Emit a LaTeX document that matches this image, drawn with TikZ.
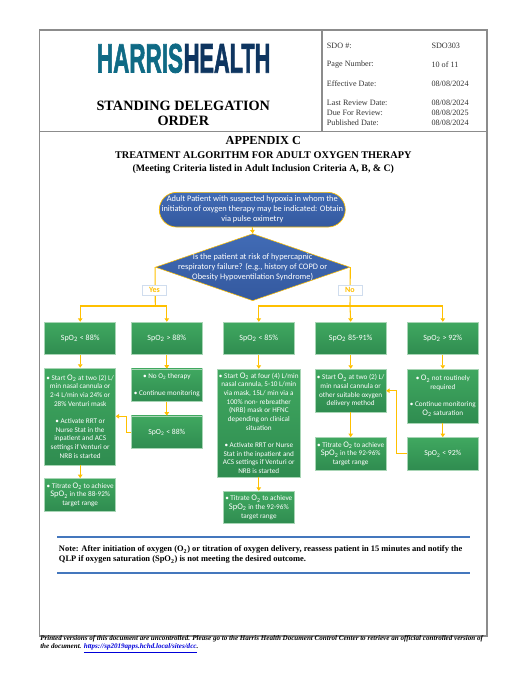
\documentclass[tikz,border=0pt]{standalone}
\usepackage{fontspec}
\setmainfont{Liberation Serif}
\newfontfamily\carl{Carlito}
\newfontfamily\logofont[BoldFeatures={FakeBold=2.2}]{Liberation Sans}
\usetikzlibrary{arrows.meta,shapes.geometric}
\definecolor{gold}{HTML}{FFC000}
\definecolor{teal}{HTML}{0F6A85}
\definecolor{navy}{HTML}{0E3560}
\definecolor{framec}{HTML}{8C8C8C}
\definecolor{gtop}{HTML}{40A860}
\definecolor{gbot}{HTML}{2F8C50}
\definecolor{gedge}{HTML}{A8D5B5}
\definecolor{btop}{HTML}{416BB5}
\definecolor{bbot}{HTML}{34599F}
\definecolor{rulec}{HTML}{4477BD}
\newcommand{\Ot}{O\textsubscript{2}}
\newcommand{\LO}{{\fontsize{6.4}{6.5}\selectfont O\textsubscript{2}}}
\newcommand{\LS}{{\fontsize{6.4}{6.5}\selectfont SpO\textsubscript{2}}}
\tikzset{
  box/.style n args={2}{draw=gedge, line width=.4pt, top color=gtop, bottom color=gbot,
    minimum width=#1*0.75pt, minimum height=#2*0.75pt, inner sep=0pt, align=center, text=white,
    font=\carl\fontsize{5.4}{6.5}\selectfont},
  arr/.style={draw=gold, line width=.8pt, -{Triangle[length=2.6pt,width=3.4pt]}},
  plain/.style={draw=gold, line width=.8pt},
  branch/.style={draw=rulec!25!white, line width=.1pt, fill=white, text=gold, minimum width=18pt, minimum height=7.5pt,
    inner sep=0pt, font=\carl\bfseries\fontsize{6}{7}\selectfont},
  meta/.style={anchor=west, inner sep=0pt, text=black!80, font=\fontsize{6.1}{7}\selectfont},
  rulel/.style={draw=rulec, line width=1.5pt},
  framel/.style={draw=framec, line width=.9pt},
  head/.style={inner sep=0pt, align=center, font=\bfseries\fontsize{10}{11}\selectfont}
}
\begin{document}
\begin{tikzpicture}[x=0.75pt,y=-0.75pt]
\useasboundingbox (0,0) rectangle (527,681);
% frame
\draw[framel] (39.5,30) rectangle (487,636);
\draw[framel] (39.5,131.7) -- (487,131.7);
\draw[framel] (322,30) -- (322,131.7);
% logo
\node[inner sep=0pt,anchor=west,text=teal] (logoa) at (96.7,58.4) {\resizebox{64.5pt}{21.5pt}{\logofont\bfseries HARRIS}};
\node[inner sep=0pt,anchor=west,text=navy] (logob) at (183.5,58.4) {\resizebox{65pt}{21.5pt}{\logofont\bfseries HEALTH}};
\node[head,font=\bfseries\fontsize{10.7}{11.6}\selectfont] (sdo) at (183.3,113.3) {STANDING DELEGATION\\ORDER};
% meta
\foreach \n/\y/\a/\b in {m1/45.7/SDO \#:/SDO303, m2/64.7/Page Number:/10 of 11, m3/84/Effective Date:/08\slash 08\slash 2024, m4/103.3/Last Review Date:/08\slash 08\slash 2024, m5/113/Due For Review:/08\slash 08\slash 2025, m6/122.7/Published Date:/08\slash 08\slash 2024}{
  \node[meta] (\n a) at (326.7,\y) {\a};
  \node[meta] (\n b) at (431.3,\y) {\b};
}
% titles
\node[head,font=\bfseries\fontsize{9.2}{11}\selectfont] (t1) at (263.3,140.7) {APPENDIX C};
\node[head,font=\bfseries\fontsize{7.7}{10}\selectfont] (t2) at (263.3,155) {TREATMENT ALGORITHM FOR ADULT OXYGEN THERAPY};
\node[head,font=\bfseries\fontsize{7.4}{10}\selectfont] (t3) at (263.3,168.7) {(Meeting Criteria listed in Adult Inclusion Criteria A, B, \& C)};
% start & decision
\node[draw=gold,line width=.5pt,rounded corners=13pt,top color=btop,bottom color=bbot,text=white,
  minimum width=139.5pt,minimum height=26pt,inner sep=0pt,align=center,font=\carl\fontsize{6.3}{7.5}\selectfont]
  (start) at (252.3,209.7) {Adult Patient with suspected hypoxia in whom the\\initiation of oxygen therapy may be indicated: Obtain\\via pulse oximetry};
\node[diamond,aspect=2.9,draw=gold,line width=.4pt,top color=btop,bottom color=bbot,text=white,
  minimum width=146pt,minimum height=50.3pt,inner sep=0pt,font=\carl\fontsize{6.3}{7.5}\selectfont]
  (dec) at (252.7,267.2) {\makebox[0pt]{\begin{tabular}{@{}c@{}}Is the patient at risk of hypercapnic\\respiratory failure? (e.g., history of COPD or\\Obesity Hypoventilation Syndrome)\end{tabular}}};
% first row
\node[box={71}{32.7},font=\carl\fontsize{6}{7}\selectfont] (a1) at (80.2,338.4) {SpO\textsubscript{2} < 88\%};
\node[box={71}{32.7},font=\carl\fontsize{6}{7}\selectfont] (b1) at (166.8,338.4) {SpO\textsubscript{2} > 88\%};
\node[box={71}{32.7},font=\carl\fontsize{6}{7}\selectfont] (c1) at (258.8,338.4) {SpO\textsubscript{2} < 85\%};
\node[box={71}{32.7},font=\carl\fontsize{6}{7}\selectfont] (d1) at (350.7,338.4) {SpO\textsubscript{2} 85-91\%};
\node[box={71}{32.7},font=\carl\fontsize{6}{7}\selectfont] (e1) at (442.8,338.4) {SpO\textsubscript{2} > 92\%};
% second row
\node[box={71}{97}] (a2) at (80.2,416.5) {• Start \LO\ at two (2) L/\\min nasal cannula or\\2-4 L/min via 24\% or\\28\% Venturi mask\\[6.5pt]• Activate RRT or\\Nurse Stat in the\\inpatient and ACS\\settings if Venturi or\\NRB is started};
\node[box={71}{32.7}] (b2) at (166.8,385.3) {• No \Ot\ therapy\\[6.5pt]• Continue monitoring};
\node[box={82.3}{108}] (c2) at (258.8,423) {• Start \LO\ at four (4) L/min\\nasal cannula, 5-10 L/min\\via mask, 15L/ min via a\\100\% non- rebreather\\(NRB) mask or HFNC\\depending on clinical\\situation\\[6.5pt]• Activate RRT or Nurse\\Stat in the inpatient and\\ACS settings if Venturi or\\NRB is started};
\node[box={71}{43}] (d2) at (350.7,390.5) {• Start \LO\ at two (2) L/\\min nasal cannula or\\other suitable oxygen\\delivery method};
\node[box={71}{54}] (e2) at (442.8,396) {• \LO\ not routinely\\required\\[6.5pt]• Continue monitoring\\\LO\ saturation};
% third row
\node[box={71}{32.7}] (a3) at (80.2,494.7) {• Titrate \LO\ to achieve\\\LS\ in the 88-92\%\\target range};
\node[box={71}{32.7},font=\carl\fontsize{5.8}{7}\selectfont] (b3) at (166.8,432.2) {SpO\textsubscript{2} < 88\%};
\node[box={71}{32.7}] (c3) at (258.8,507.4) {• Titrate \LO\ to achieve\\\LS\ in the 92-96\%\\target range};
\node[box={71}{32.7}] (d3) at (350.7,453.7) {• Titrate \LO\ to achieve\\\LS\ in the 92-96\%\\target range};
\node[box={71}{32.7},font=\carl\fontsize{5.8}{7}\selectfont] (e3) at (442.8,453.7) {SpO\textsubscript{2} < 92\%};
% connectors
\draw[arr] (start.south) -- (dec.north);
\coordinate (yj) at (155.3,306);
\coordinate (nj) at (350,306);
\draw[plain] (dec.west) -- (yj);
\draw[plain] (dec.east) -- (nj);
\draw[arr] (yj) -| (a1.north);
\draw[arr] (yj) -| (b1.north);
\draw[arr] (nj) -| (c1.north);
\draw[arr] (nj) -- (d1.north);
\draw[arr] (nj) -| (e1.north);
\foreach \p/\q in {a1/a2,a2/a3,b1/b2,b2/b3,c1/c2,c2/c3,d1/d2,d2/d3,e1/e2,e2/e3}{
  \draw[arr] (\p.south) -- (\q.north);
}
\coordinate (bk) at (126.7,416.3);
\coordinate (bt) at (115.7,416.3);
\draw[arr] (b3.west) -- (126.7,432.2) -- (bk) -- (bt);
\coordinate (ek) at (396.7,390.7);
\coordinate (et) at (386.2,390.7);
\draw[arr] (e3.west) -- (396.7,453.7) -- (ek) -- (et);
\node[branch] (yes) at (154.5,290) {Yes};
\node[branch] (no) at (350,290) {No};
% note
\coordinate (r1a) at (57.3,536.7); \coordinate (r1b) at (469.7,536.7);
\coordinate (r2a) at (57.3,572.7); \coordinate (r2b) at (469.7,572.7);
\draw[rulel] (r1a) -- (r1b);
\draw[rulel] (r2a) -- (r2b);
\node[anchor=north west,inner sep=0pt,align=left,text=black,font=\bfseries\fontsize{6.33}{7.5}\selectfont] (note) at (58.7,545.5)
 {Note: After initiation of oxygen (O\textsubscript{2}) or titration of oxygen delivery, reassess patient in 15 minutes and notify the\\QLP if oxygen saturation (SpO\textsubscript{2}) is not meeting the desired outcome.};
% footer
\node[anchor=north west,inner sep=0pt,align=left,font=\bfseries\itshape\fontsize{5.3}{6}\selectfont] (foot) at (40,635.5)
 {Printed versions of this document are uncontrolled. Please go to the Harris Health Document Control Center to retrieve an official controlled version of\\the document. \textcolor{blue!85!black}{\underline{https://sp2019apps.hchd.local/sites/dcc}}.};
\end{tikzpicture}
\end{document}
